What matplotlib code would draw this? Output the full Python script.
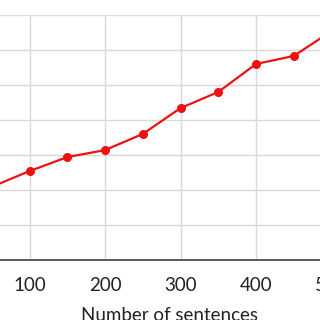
import matplotlib.pyplot as plt

# data (y in gridline units, labels are cropped away)
n_sentences = [50, 100, 150, 200, 250, 300, 350, 400, 450, 500]
values = [20.9, 25.4, 29.4, 31.4, 36.0, 43.4, 48.0, 56.0, 58.3, 65.4]
x_ticks = [100, 200, 300, 400, 500]
y_ticks = [0, 10, 20, 30, 40, 50, 60, 70]

plt.rcParams["font.family"] = ["Lato", "DejaVu Sans"]

fig = plt.figure(figsize=(3.2, 3.2), dpi=100)
# axes reach past the figure edges, the reference is a crop of a bigger chart
ax = fig.add_axes([-46 / 320, 60 / 320, 377.5 / 320, 245 / 320])

ax.plot(n_sentences, values, color="#ee1111", lw=1.6, marker="o", ms=5.5,
        markeredgecolor="#ee1111", markerfacecolor="#ee1111", clip_on=False, zorder=3)

ax.set_xlim(0, 500)
ax.set_ylim(0, 70)
ax.set_xticks(x_ticks)
ax.set_yticks(y_ticks)
ax.set_yticklabels([])
ax.grid(True, color="#d9d9d9", lw=1)
ax.set_axisbelow(True)

for side in ["top", "right", "left"]:
    ax.spines[side].set_visible(False)
ax.spines["bottom"].set_color("#404040")
ax.spines["bottom"].set_linewidth(1.2)

ax.tick_params(axis="x", length=0, pad=12, labelsize=13.5, colors="#222222")
ax.tick_params(axis="y", length=0)
ax.set_xlabel("Number of sentences", fontsize=13.5, color="#222222")
ax.xaxis.set_label_coords(0.57, -0.192, transform=ax.transAxes)
ax.xaxis.label.set_va("top")

fig.savefig("out.png", dpi=100)
